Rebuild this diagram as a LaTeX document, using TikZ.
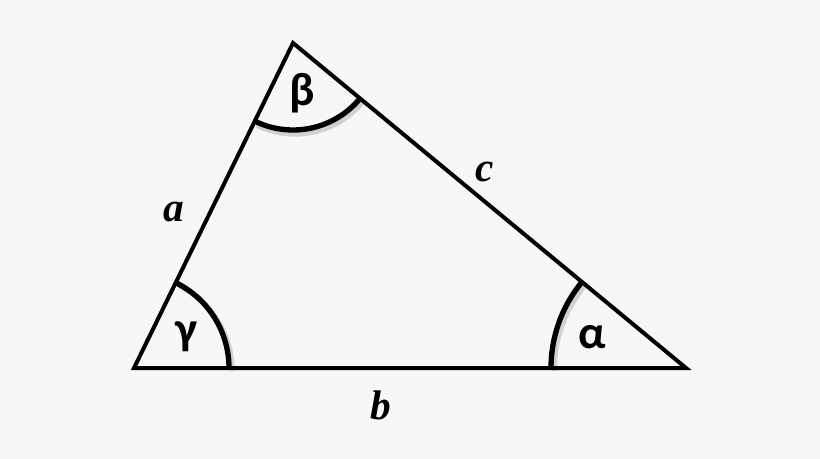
\documentclass[tikz,border=0pt]{standalone}
\usepackage{fontspec}
\setmainfont{Liberation Serif}
\newfontfamily\greekfont{Carlito}
\usepackage{tikz}
\usetikzlibrary{calc}
\definecolor{bgcol}{RGB}{247,247,247}
\tikzset{
    side/.style={line width=3pt, line cap=round, line join=miter},
    angarc/.style={line width=4pt},
    arcshadow/.style={line width=4pt, draw=black!18},
    sidelbl/.style={font=\fontsize{31}{34}\selectfont\bfseries\itshape},
    anglbl/.style={font=\fontsize{35}{38}\selectfont\greekfont\bfseries},
}

\begin{document}
\begin{tikzpicture}[x=0.75pt,y=0.75pt,yscale=-1,xscale=1]
%Background
\fill[bgcol] (0,0) rectangle (820,459);
\useasboundingbox (0,0) rectangle (820,459);
%Vertices
\coordinate (vg) at (134,368);
\coordinate (vb) at (293,43);
\coordinate (va) at (686,368);
%Arc shadows
\draw[arcshadow] ($(vg)+(3,3)$) ++(0:95) arc (0:-63.9:95);
\draw[arcshadow] ($(vb)+(2,4)$) ++(39.5:87) arc (39.5:116.1:87);
\draw[arcshadow] ($(va)+(3,3)$) ++(180:135) arc (180:219.5:135);
%Angle Arcs
\draw[angarc] (vg) ++(0:95) arc (0:-63.9:95);
\draw[angarc] (vb) ++(39.5:87) arc (39.5:116.1:87);
\draw[angarc] (va) ++(180:135) arc (180:219.5:135);
%Triangle
\draw[side] (vg) -- (vb) -- (va) -- cycle;
%Labels
\node[sidelbl] (lbla) at (174,212) {a};
\node[sidelbl] (lblc) at (485,172) {c};
\node[sidelbl] (lblb) at (381,405) {b};
\node[anglbl] (lblbeta) at (302,93) {β};
\node[anglbl] (lblgamma) at (186,337) {γ};
\node[anglbl] (lblalpha) at (592,337) {α};
\end{tikzpicture}
\end{document}
